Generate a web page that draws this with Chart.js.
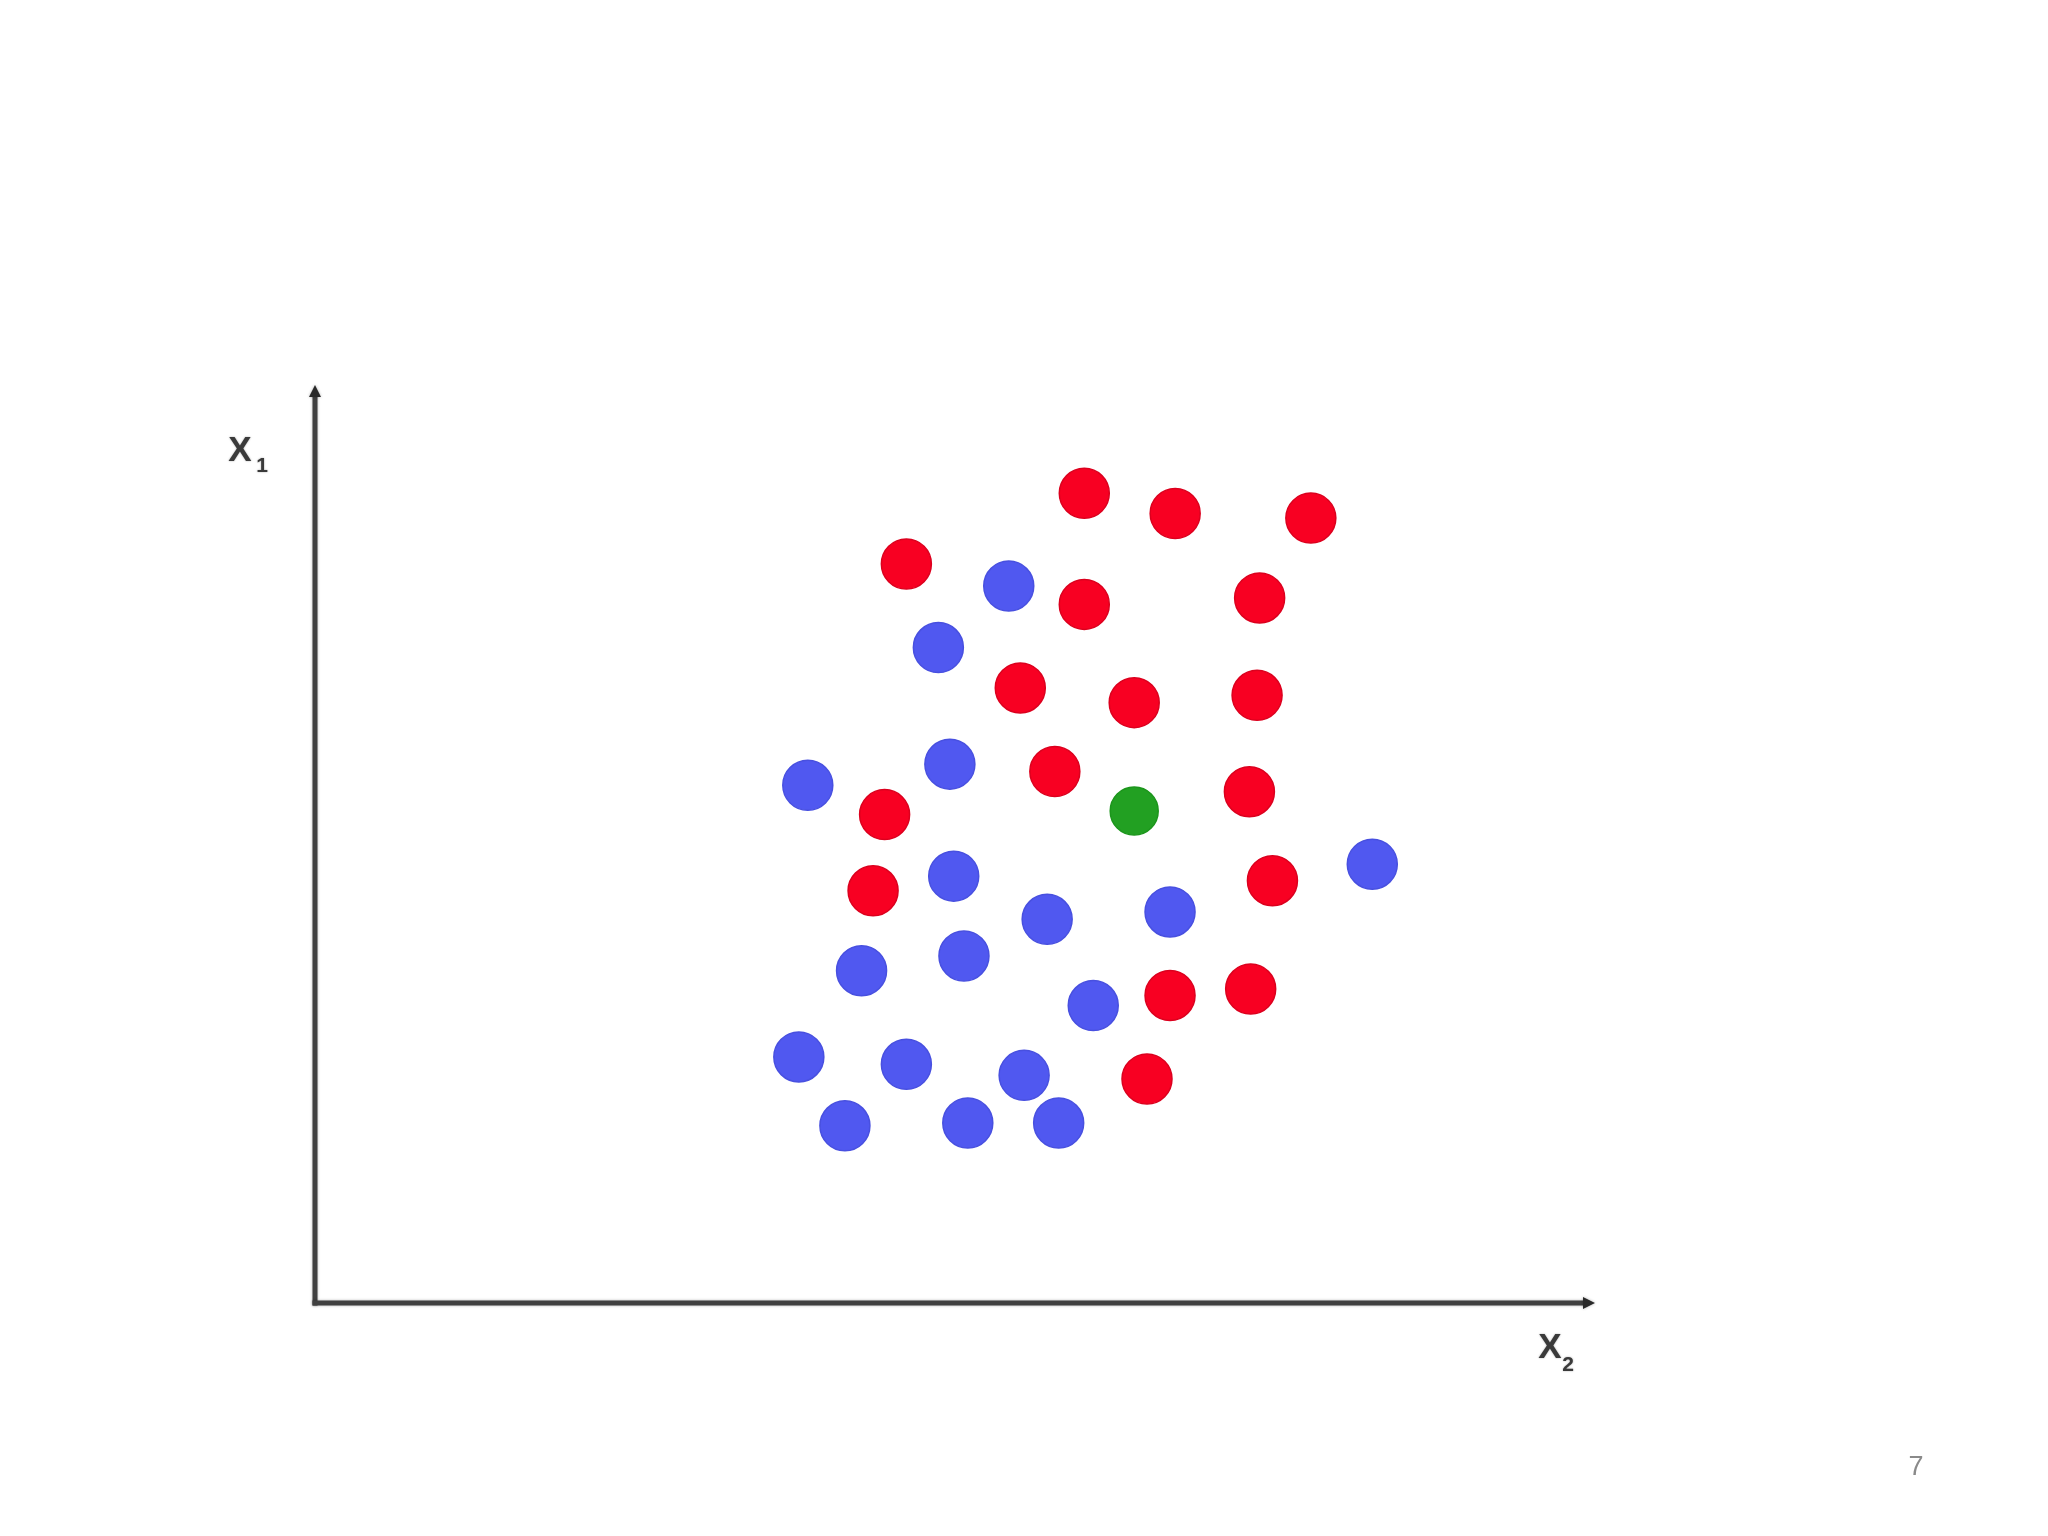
<!DOCTYPE html>
<html>
<head>
<meta charset="utf-8">
<script src="https://cdn.jsdelivr.net/npm/chart.js@4"></script>
<style>
  html, body { margin: 0; padding: 0; background: #ffffff; }
  #wrap { width: 2048px; height: 1536px; position: relative; }
</style>
</head>
<body>
<div id="wrap"><canvas id="c" width="2048" height="1536"></canvas></div>
<script>
// Class A (red) points: x2 (horizontal), x1 (vertical), axis units 0-100
const redX = [60.1, 67.2, 77.8, 46.2, 60.1, 73.8, 55.1, 64.0, 73.6, 57.8, 73.0, 44.5, 43.6, 74.8, 66.8, 73.1, 65.0];
const redY = [88.2, 86.0, 85.5, 80.5, 76.1, 76.8, 67.0, 65.4, 66.2, 57.9, 55.7, 53.2, 44.9, 46.0, 33.5, 34.2, 24.4];
// Class B (blue) points
const blueX = [54.2, 48.7, 38.5, 49.6, 49.9, 57.2, 66.8, 82.6, 42.7, 50.7, 60.8, 37.8, 46.2, 55.4, 41.4, 51.0, 58.1];
const blueY = [78.1, 71.4, 56.4, 58.7, 46.5, 41.8, 42.6, 47.8, 36.2, 37.8, 32.4, 26.8, 26.0, 24.8, 19.3, 19.6, 19.6];
// Query point (green)
const greenX = [64.0];
const greenY = [53.6];
// Axis labels and page number
const xAxisLabel = ["X", "2"];
const yAxisLabel = ["X", "1"];
const pageNumber = "7";

const toPts = (xs, ys) => xs.map((x, i) => ({ x: x, y: ys[i] }));

const axesPlugin = {
  id: 'axesArrows',
  afterDraw(chart) {
    const ctx = chart.ctx;
    const xs = chart.scales.x, ys = chart.scales.y;
    const x0 = xs.getPixelForValue(0), x1 = xs.getPixelForValue(100);
    const y0 = ys.getPixelForValue(0), y1 = ys.getPixelForValue(100);
    ctx.save();
    ctx.strokeStyle = '#404040';
    ctx.fillStyle = '#2a2a2a';
    ctx.lineWidth = 5;
    ctx.lineCap = 'butt';
    ctx.shadowColor = 'rgba(0,0,0,0.3)';
    ctx.shadowBlur = 3;
    // y axis
    ctx.beginPath();
    ctx.moveTo(x0, y0 + 2.5);
    ctx.lineTo(x0, y1 + 8);
    ctx.stroke();
    // x axis
    ctx.beginPath();
    ctx.moveTo(x0 - 2.5, y0);
    ctx.lineTo(x1 - 8, y0);
    ctx.stroke();
    // arrow heads
    ctx.beginPath();
    ctx.moveTo(x0, y1);
    ctx.lineTo(x0 - 6, y1 + 12);
    ctx.lineTo(x0 + 6, y1 + 12);
    ctx.closePath();
    ctx.fill();
    ctx.beginPath();
    ctx.moveTo(x1, y0);
    ctx.lineTo(x1 - 12, y0 - 6);
    ctx.lineTo(x1 - 12, y0 + 6);
    ctx.closePath();
    ctx.fill();

    // axis labels
    ctx.shadowColor = 'rgba(0,0,0,0.35)';
    ctx.shadowBlur = 2;
    ctx.fillStyle = '#3a3a3a';
    ctx.textAlign = 'center';
    ctx.textBaseline = 'alphabetic';
    ctx.font = 'bold 35px "Liberation Sans", Arial, sans-serif';
    ctx.fillText(yAxisLabel[0], x0 - 75, y1 + 76);
    ctx.font = 'bold 21px "Liberation Sans", Arial, sans-serif';
    ctx.fillText(yAxisLabel[1], x0 - 53, y1 + 87);

    ctx.font = 'bold 35px "Liberation Sans", Arial, sans-serif';
    ctx.fillText(xAxisLabel[0], x1 - 45, y0 + 55);
    ctx.font = 'bold 21px "Liberation Sans", Arial, sans-serif';
    ctx.fillText(xAxisLabel[1], x1 - 27, y0 + 68);
    ctx.shadowBlur = 0;
    ctx.shadowColor = 'transparent';

    // page number
    ctx.fillStyle = '#8a8a8a';
    ctx.font = '27px "Liberation Sans", "Noto Sans", sans-serif';
    ctx.fillText(pageNumber, 1916, 1475);
    ctx.restore();
  }
};

new Chart(document.getElementById('c'), {
  type: 'scatter',
  data: {
    datasets: [
      { label: 'A', data: toPts(redX, redY), backgroundColor: '#f80022', borderColor: '#dc001e', borderWidth: 1.5, pointRadius: 25, pointHoverRadius: 25 },
      { label: 'B', data: toPts(blueX, blueY), backgroundColor: '#5058f0', borderColor: '#4850e0', borderWidth: 1.5, pointRadius: 25, pointHoverRadius: 25 },
      { label: 'Query', data: toPts(greenX, greenY), backgroundColor: '#22a022', borderColor: '#1c961c', borderWidth: 1.5, pointRadius: 24, pointHoverRadius: 24 }
    ]
  },
  options: {
    responsive: false,
    animation: false,
    layout: { padding: { left: 315, right: 453, top: 385, bottom: 233 } },
    plugins: { legend: { display: false }, tooltip: { enabled: false } },
    scales: {
      x: { type: 'linear', min: 0, max: 100, display: false },
      y: { type: 'linear', min: 0, max: 100, display: false }
    },
    clip: false
  },
  plugins: [axesPlugin]
});
</script>
</body>
</html>
